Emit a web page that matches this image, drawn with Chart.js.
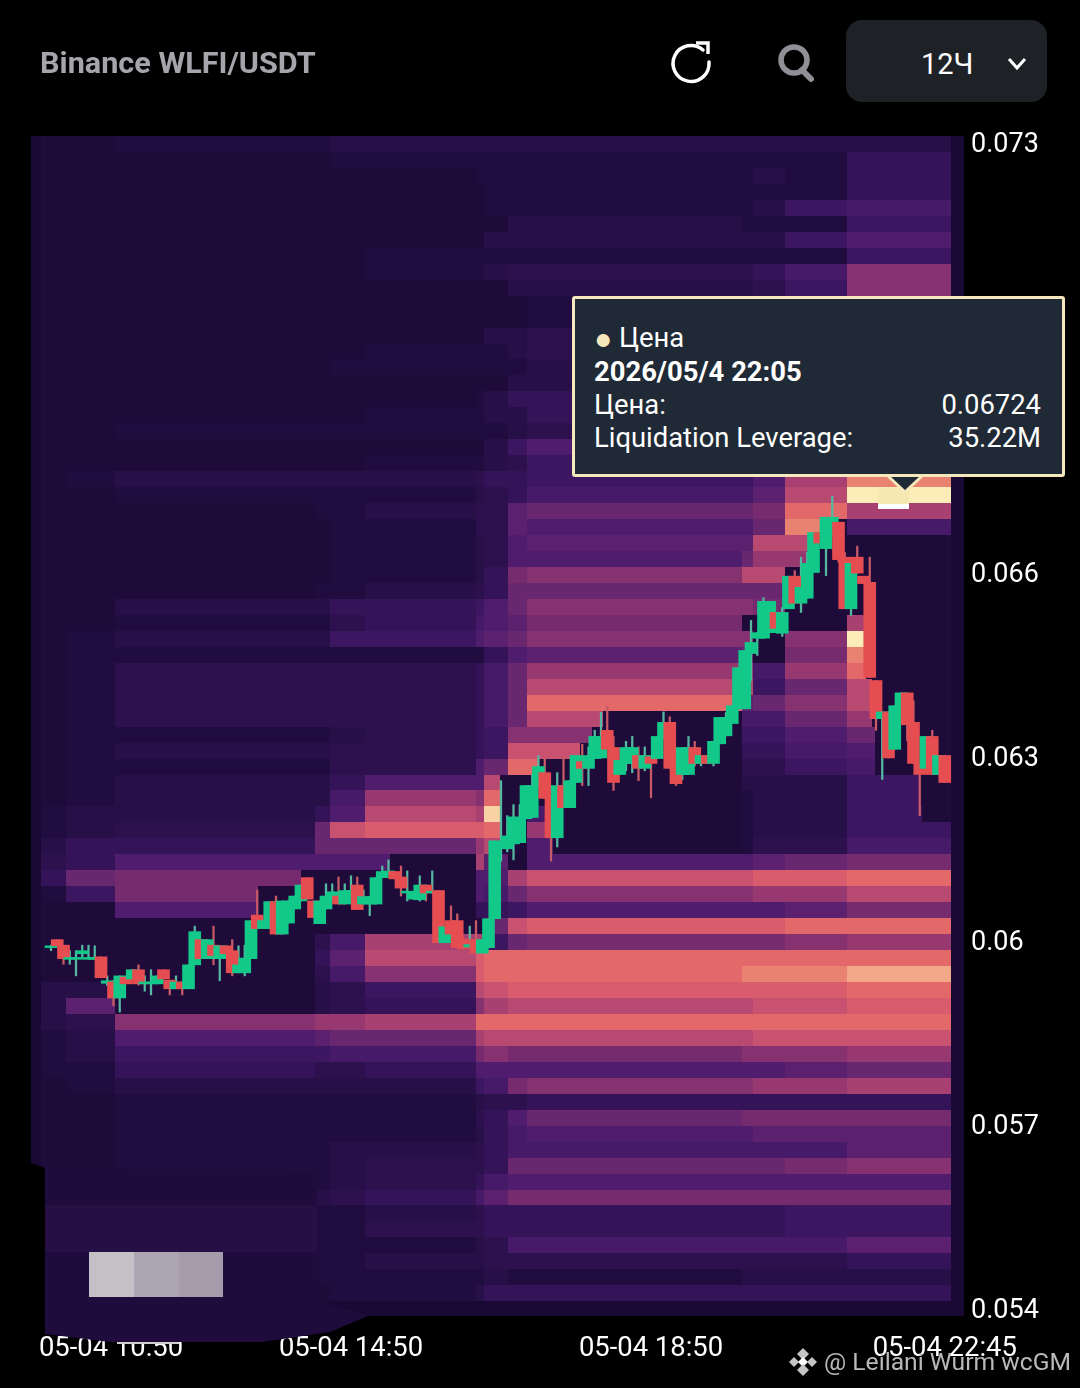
<!DOCTYPE html>
<html>
<head>
<meta charset="utf-8">
<title>Binance WLFI/USDT</title>
<script src="https://cdn.jsdelivr.net/npm/chart.js@4/dist/chart.umd.min.js"></script>
<style>
    html, body { margin: 0; padding: 0; background: #000; }
    #page { position: relative; width: 1080px; height: 1388px; overflow: hidden; background: #000; font-family: Roboto, sans-serif; }
    #page canvas { position: absolute; left: 0; top: 0; }
    .txt { position: absolute; white-space: nowrap; line-height: 1; }
    #title { left: 40px; top: 48px; font-size: 30px; font-weight: 700; color: #a5a5ac; transform: scaleX(1.02); transform-origin: left; }
    #rangeBtn { position: absolute; left: 846px; top: 20px; width: 201px; height: 82px; border-radius: 16px; background: #1e2226; }
    #rangeTxt { left: 921px; top: 50px; font-size: 29px; color: #fff; }
    #tip { position: absolute; left: 572px; top: 296px; width: 487px; height: 175px; background: #202a36; border: 3px solid #f6e8bd; border-radius: 3px; color: #fff; }
    #tip .txt { font-size: 27.4px; }
    #mark { left: 824px; top: 1350px; font-size: 24.7px; color: #b9b9b9; }
    svg { position: absolute; left: 0; top: 0; }
</style>
</head>
<body>
<div id="page">
    <canvas id="chartHeat" width="1080" height="1388"></canvas>
    <div class="txt" id="title">Binance WLFI/USDT</div>
    <div id="rangeBtn"></div>
    <div class="txt" id="rangeTxt">12Ч</div>
    <svg width="1080" height="1388">
        <path d="M703 50 A18 18 0 1 0 709 62" fill="none" stroke="#fff" stroke-width="3.5" stroke-linecap="round"/>
        <path d="M696 43 L708 43 L708 54" fill="none" stroke="#fff" stroke-width="3.5"/>
        <circle cx="794" cy="60" r="13" fill="none" stroke="#8f8f96" stroke-width="5.5"/>
        <path d="M802 70 L811 79" stroke="#8f8f96" stroke-width="6" stroke-linecap="round"/>
        <path d="M1009 59 L1017 68 L1025 59" fill="none" stroke="#fff" stroke-width="3"/>
        <path d="M888 476 L905 492 L922 476" fill="#202a36" stroke="#f6e8bd" stroke-width="3"/>
        <g fill="#c4c4c4">
            <path d="M803 1348 L809 1354 L803 1360 L797 1354 Z"/>
            <path d="M803 1357 L808 1362 L803 1367 L798 1362 Z" fill="#fff"/>
            <path d="M803 1364 L809 1370 L803 1376 L797 1370 Z"/>
            <path d="M794 1357 L799 1362 L794 1367 L789 1362 Z"/>
            <path d="M812 1357 L817 1362 L812 1367 L807 1362 Z"/>
        </g>
    </svg>
    <div id="tip">
        <div class="txt" style="left:19px;top:25px"><span style="color:#f6e8bd;font-size:30px;vertical-align:-2px">●</span> Цена</div>
        <div class="txt" style="left:19px;top:60px;font-weight:700">2026/05/4 22:05</div>
        <div class="txt" style="left:19px;top:93px">Цена:</div>
        <div class="txt" style="right:21px;top:93px">0.06724</div>
        <div class="txt" style="left:19px;top:126px">Liquidation Leverage:</div>
        <div class="txt" style="right:21px;top:126px">35.22M</div>
    </div>
    <div class="txt" id="mark">@ Leilani Wurm wcGM</div>
</div>

<script>
// candles, one per 5 min from 05-04 10:50 to 22:45, prices in 0.00001 USDT
const priceUnit = 0.00001;
const opens = [5989,6002,5993,5970,5970,5979,5970,5970,5974,5931,5933,5907,5941,5938,5953,5930,5930,5930,5953,5936,5922,5933,5922,5961,
    6002,5971,5993,5971,5992,5984,5948,5948,5971,6042,6020,6020,6064,6011,6029,6052,6065,6103,6065,6028,6052,6065,6073,6060,
    6062,6091,6060,6060,6060,6103,6111,6113,6104,6078,6068,6067,6091,6078,6082,5997,6033,6033,6003,5990,6002,5980,5989,6036,
    6152,6150,6158,6160,6199,6201,6248,6274,6232,6168,6253,6217,6258,6292,6281,6297,6298,6343,6315,6271,6289,6289,6302,6281,
    6300,6297,6331,6356,6281,6271,6271,6315,6289,6302,6289,6321,6334,6354,6378,6378,6468,6493,6493,6502,6535,6501,6541,6594,
    6550,6558,6600,6665,6639,6661,6682,6625,6541,6625,6594,6584,6424,6362,6373,6312,6370,6404,6356,6289,6281,6333,6271,6302];
const closes = [5992,5992,5971,5973,5973,5984,5973,5973,5940,5935,5907,5943,5930,5953,5930,5933,5933,5943,5938,5922,5933,5922,5961,6015,
    5971,6002,5976,5992,5979,5948,5961,5972,6033,6020,6033,6064,6011,6065,6065,6073,6091,6068,6038,6065,6073,6080,6060,6082,
    6082,6051,6072,6072,6103,6113,6114,6101,6086,6081,6080,6091,6078,6081,5997,6023,6011,5989,5987,5994,5980,6002,6036,6163,
    6158,6171,6202,6199,6253,6253,6284,6232,6168,6253,6217,6261,6302,6281,6302,6333,6333,6312,6258,6294,6315,6315,6281,6302,
    6289,6333,6356,6281,6256,6315,6315,6289,6302,6289,6325,6364,6364,6383,6445,6473,6486,6502,6553,6553,6509,6535,6594,6550,
    6576,6615,6665,6648,6690,6690,6621,6541,6615,6599,6582,6429,6362,6373,6298,6383,6404,6352,6289,6271,6333,6271,6302,6258];
const highs = [5993,6002,5993,5984,5984,5993,5993,5992,5974,5943,5935,5943,5941,5953,5961,5943,5953,5943,5953,5936,5943,5933,5961,6024,
    6002,6002,6024,5992,5992,6002,5992,5993,6033,6083,6033,6064,6073,6065,6065,6073,6091,6103,6065,6065,6093,6093,6104,6093,
    6106,6104,6083,6072,6103,6122,6132,6113,6122,6114,6080,6106,6091,6114,6082,6023,6057,6044,6003,6024,6033,6002,6036,6163,
    6261,6204,6222,6222,6253,6271,6302,6297,6232,6274,6298,6261,6302,6320,6316,6343,6372,6382,6333,6294,6325,6333,6316,6316,
    6300,6333,6373,6365,6281,6315,6333,6325,6302,6302,6325,6364,6372,6383,6445,6473,6522,6502,6559,6553,6535,6543,6594,6603,
    6625,6633,6665,6665,6690,6724,6682,6633,6615,6643,6594,6625,6424,6373,6373,6383,6404,6404,6391,6289,6333,6343,6302,6302];
const lows = [5984,5992,5962,5962,5943,5972,5970,5970,5940,5927,5894,5884,5930,5938,5928,5918,5912,5930,5938,5912,5922,5912,5922,5961,
    5971,5971,5961,5935,5979,5943,5948,5943,5971,6020,6020,6020,6011,6011,6029,6052,6065,6068,6038,6028,6052,6065,6060,6060,
    6062,6051,6060,6041,6060,6103,6109,6101,6073,6065,6068,6065,6065,6078,5997,5997,6011,5989,5987,5987,5980,5980,5989,6036,
    6130,6145,6132,6160,6199,6201,6248,6232,6130,6153,6217,6217,6258,6253,6253,6297,6298,6312,6245,6271,6277,6274,6261,6277,
    6233,6297,6331,6281,6253,6263,6271,6285,6285,6289,6285,6321,6334,6354,6378,6378,6424,6465,6493,6502,6509,6496,6541,6550,
    6535,6558,6600,6648,6595,6661,6617,6541,6530,6599,6582,6429,6343,6263,6298,6312,6370,6326,6289,6204,6281,6271,6271,6258];

// liquidation heat: column edges in candle index, one row per 0.00026 price band from the top down
const heatTopPrice = 0.07311;
const bandStep = 0.00026;
const heatEdges = [-1.6,2.4,10.24,42.24,44.64,50.24,68,69.28,73.12,76.16,110.56,112.32,117.44,127.36,144];
const heatRows = [
    [1,1,2,2,3,3,3,3,3,3,3,3,3,3],
    [1,1,1,1,2,2,2,2,2,2,2,2,2,5],
    [1,1,1,1,1,1,2,2,2,2,2,3,2,5],
    [1,1,1,1,1,1,1,2,2,2,2,2,2,5],
    [1,1,1,1,1,1,1,2,2,2,2,3,6,7],
    [1,1,1,1,1,1,1,1,3,3,2,2,2,6],
    [1,1,1,1,1,1,1,3,3,3,3,3,6,8],
    [1,1,1,1,1,2,2,2,2,2,2,2,2,6],
    [1,1,1,1,1,2,2,3,4,4,4,5,7,12],
    [1,1,1,1,1,1,1,1,3,3,3,4,6,12],
    [1,1,1,1,1,1,1,1,1,2,2,3,6,10],
    [1,1,1,1,1,1,1,1,1,2,2,3,6,11],
    [1,1,1,1,1,1,1,3,3,4,3,4,7,12],
    [1,1,1,1,1,2,2,2,3,4,3,4,7,12],
    [1,1,1,1,2,2,2,2,2,3,3,4,7,12],
    [1,1,1,1,1,1,1,1,3,3,3,4,8,12],
    [1,1,1,1,1,1,2,3,5,5,5,5,8,12],
    [1,1,1,1,1,2,2,3,3,5,5,5,8,12],
    [1,1,2,2,2,2,2,2,3,4,5,5,9,13],
    [1,1,1,1,1,1,1,3,6,8,6,6,10,14],
    [1,1,1,1,1,2,2,3,4,6,6,7,12,16],
    [1,2,3,3,3,3,4,5,5,6,6,8,14,19],
    [1,1,2,2,2,2,3,4,5,7,7,9,15,22],
    [1,1,1,2,2,3,4,4,9,10,10,11,18,14],
    [1,1,1,1,2,2,4,4,9,8,8,10,19,7],
    [1,1,1,1,2,2,3,4,8,9,9,15,15,1],
    [1,1,1,1,2,2,3,4,8,8,10,13,13,1],
    [1,1,1,1,2,2,3,5,11,12,15,15,1,1],
    [1,1,1,2,2,3,4,5,10,10,10,10,1,1],
    [1,1,3,3,5,5,6,8,10,12,12,11,1,1],
    [1,1,2,2,4,5,7,8,9,11,1,1,1,14],
    [1,2,3,3,6,6,8,9,10,12,12,1,12,22],
    [1,2,2,2,2,2,2,5,8,9,10,1,11,19],
    [1,2,4,4,4,4,5,7,10,13,13,7,13,18],
    [1,2,4,4,4,4,5,7,10,15,15,6,10,15],
    [1,2,4,4,4,4,5,7,10,18,9,10,12,15],
    [1,2,4,4,4,4,5,7,10,15,7,7,10,13],
    [1,2,2,2,3,4,5,6,12,12,6,6,8,10],
    [1,2,3,3,4,4,5,6,16,16,5,5,7,8],
    [1,2,2,2,4,4,8,10,18,18,4,4,6,7],
    [1,2,3,3,5,8,8,15,1,1,3,3,3,6],
    [1,2,3,3,7,13,12,18,1,1,2,3,3,6],
    [2,3,3,5,8,15,14,21,1,7,2,3,3,6],
    [2,3,4,10,16,17,17,18,1,13,2,3,3,6],
    [3,5,5,10,10,10,13,15,1,8,2,4,4,7],
    [4,5,8,8,8,8,14,9,1,8,8,9,10,11],
    [5,10,11,11,11,11,8,8,14,16,16,17,17,18],
    [2,6,11,11,11,11,8,7,10,12,12,13,13,15],
    [1,1,8,8,8,8,5,5,6,8,8,8,9,11],
    [1,1,1,1,1,1,1,10,16,17,17,17,18,18],
    [1,1,1,4,7,14,14,6,10,11,11,11,12,13],
    [1,1,1,5,9,15,17,18,18,18,18,18,18,18],
    [1,1,1,4,7,12,17,18,18,18,19,19,19,20],
    [3,3,1,3,4,6,15,16,17,17,17,17,17,18],
    [3,9,1,3,4,5,12,14,15,15,15,16,16,17],
    [3,4,12,13,13,14,18,18,18,18,18,18,18,18],
    [2,3,8,9,10,10,14,15,15,15,15,16,16,16],
    [2,3,6,6,7,7,11,12,11,11,12,12,12,13],
    [2,2,5,4,4,5,8,8,8,8,8,8,9,10],
    [1,2,3,3,3,3,6,7,11,12,12,13,13,14],
    [1,1,2,2,2,2,3,4,4,5,5,5,5,5],
    [1,1,2,2,2,2,4,5,8,10,11,11,11,11],
    [1,1,2,2,2,2,3,5,7,8,8,9,9,9],
    [1,1,2,2,3,3,4,5,7,7,7,7,7,9],
    [1,1,2,2,3,4,4,5,10,10,10,10,11,12],
    [1,1,1,2,3,4,5,7,8,8,8,8,8,8],
    [1,1,2,3,4,5,7,9,11,11,11,11,11,11],
    [1,1,2,2,2,3,4,5,5,5,5,5,6,6],
    [1,1,2,2,2,4,4,5,5,5,5,5,6,6],
    [1,1,2,2,2,2,3,4,7,7,7,7,7,9],
    [1,1,1,2,2,3,3,4,4,4,4,4,4,5],
    [1,1,1,2,2,2,2,3,2,2,3,3,3,3],
    [1,1,1,1,2,2,3,5,5,5,5,5,5,5]
];
// levels already wiped out by price: [row, from index, to index]
const sweptCells = [
    [24,123.36,127.36],[25,121.44,127.36],[26,121.44,127.36],
    [30,130.4,144],[31,130.4,144],[32,130.4,144],[33,130.4,144],
    [34,131.36,144],[35,131.36,144],[36,131.36,144],[37,131.84,144],[38,131.84,144],[39,131.84,144],
    [40,139.04,144],[41,139.04,144],[42,139.36,144],
    [36,88.32,110.56],[37,86.56,110.56],[38,84.64,110.56],[39,77.92,110.56],
    [42,79.36,110.56],[43,79.36,110.56],[44,80.32,110.56],
    [40,71.84,73.12],[41,71.84,73.12],[42,71.84,73.12],[43,71.84,73.12],[44,71.84,73.12],
    [45,54.24,68],[46,40,68],[47,33.12,68],[48,33.12,68]
];
const heatColors = ['#1a0934','#1e0b3a','#210c3f','#270f47','#2d114f','#341358','#3d1661','#461969','#4f1c6e','#5b216f','#68276f','#762b6f',
    '#863170','#973871','#a84072','#b84a72','#c85270','#d85c6c','#e2686a','#ea8272','#f2a888','#f8d2a4','#fbecb8'];
const hoverIndex = 135;
const hoverRow = 22;

const yTicks = [0.073, 0.069, 0.066, 0.063, 0.06, 0.057, 0.054];
const xTickSlots = [9.6, 48, 96, 143];
const xTickLabels = ['05-04 10:50', '05-04 14:50', '05-04 18:50', '05-04 22:45'];

const upColor = '#12c98a';
const downColor = '#e64d50';

const bodyData = [];
const wickData = [];
for (let i = 0; i < opens.length; i++) {
    bodyData.push({x: i, y: [opens[i] * priceUnit, closes[i] * priceUnit]});
    wickData.push({x: i, y: [lows[i] * priceUnit, highs[i] * priceUnit]});
}
const candleColors = opens.map((o, i) => closes[i] >= o ? upColor : downColor);
const wickColors = opens.map((o, i) => closes[i] >= o ? '#55b8a0' : '#c85a68');

const heatPlugin = {
    id: 'heat',
    beforeDatasetsDraw(chart) {
        const {ctx, chartArea, scales} = chart;
        const xs = scales.x, ys = scales.y;
        ctx.save();
        ctx.fillStyle = heatColors[0];
        ctx.fillRect(chartArea.left, chartArea.top, chartArea.width, chartArea.height);
        const rowTop = (r) => Math.round(ys.getPixelForValue(heatTopPrice - r * bandStep));
        const px = (v) => Math.round(xs.getPixelForValue(v));
        heatRows.forEach((row, r) => {
            row.forEach((level, c) => {
                ctx.fillStyle = heatColors[level];
                ctx.fillRect(px(heatEdges[c]), rowTop(r), px(heatEdges[c + 1]) - px(heatEdges[c]), rowTop(r + 1) - rowTop(r));
            });
        });
        ctx.fillStyle = heatColors[1];
        sweptCells.forEach((s) => {
            ctx.fillRect(px(s[1]), rowTop(s[0]), px(s[2]) - px(s[1]), rowTop(s[0] + 1) - rowTop(s[0]));
        });
        // hovered cell
        const hx = px(hoverIndex - 2.6), hw = px(hoverIndex + 2.3) - hx;
        ctx.fillStyle = '#f5e8b0';
        ctx.fillRect(hx, rowTop(hoverRow), hw, rowTop(hoverRow + 1) - rowTop(hoverRow) + 2);
        ctx.fillStyle = '#fff';
        ctx.fillRect(hx, rowTop(hoverRow + 1) + 1, hw, 5);
        ctx.restore();
    }
};

// the source screenshot has a painted-over patch in the bottom left corner
const patchPlugin = {
    id: 'patch',
    afterDraw(chart) {
        const ctx = chart.ctx;
        ctx.save();
        ctx.fillStyle = '#000';
        ctx.beginPath();
        ctx.moveTo(31, 1163); ctx.lineTo(45, 1168); ctx.lineTo(45, 1320); ctx.lineTo(31, 1320);
        ctx.fill();
        ctx.beginPath();
        ctx.moveTo(45, 1168); ctx.lineTo(317, 1176); ctx.lineTo(317, 1300); ctx.lineTo(368, 1316);
        ctx.lineTo(330, 1332); ctx.lineTo(262, 1342); ctx.lineTo(110, 1342); ctx.lineTo(45, 1334);
        ctx.clip();
        ctx.fillStyle = '#1f0b3c';
        ctx.fillRect(45, 1160, 330, 190);
        ctx.fillStyle = '#260f44';
        ctx.fillRect(45, 1205, 330, 47);
        ctx.restore();
        ctx.save();
        ctx.fillStyle = '#c3c1c6';
        ctx.fillRect(89, 1252, 45, 45);
        ctx.fillStyle = '#aca6b2';
        ctx.fillRect(134, 1252, 45, 45);
        ctx.fillStyle = '#a49cab';
        ctx.fillRect(179, 1252, 44, 45);
        ctx.fillStyle = '#d0d0d0';
        ctx.fillRect(117, 1342, 62, 2);
        ctx.restore();
    }
};

new Chart(document.getElementById('chartHeat').getContext('2d'), {
    type: 'bar',
    data: {
        datasets: [
            {data: wickData, backgroundColor: wickColors, barThickness: 1.6, grouped: false, order: 2},
            {data: bodyData, backgroundColor: candleColors, barThickness: 12, grouped: false, order: 1}
        ]
    },
    options: {
        responsive: false,
        animation: false,
        layout: {padding: {left: 31, top: 136, right: 0, bottom: 0}},
        plugins: {legend: {display: false}, tooltip: {enabled: false}},
        scales: {
            x: {
                type: 'linear',
                offset: false,
                min: -3.2,
                max: 146.08,
                grid: {display: false, drawTicks: false},
                border: {display: false},
                afterBuildTicks: (scale) => { scale.ticks = xTickSlots.map((v) => ({value: v})); },
                afterFit: (scale) => { scale.height = 72; },
                ticks: {
                    autoSkip: false,
                    maxRotation: 0,
                    padding: 17,
                    color: '#fff',
                    font: {family: 'Roboto', size: 27.4},
                    callback: (v) => xTickLabels[xTickSlots.indexOf(v)]
                }
            },
            y: {
                type: 'linear',
                position: 'right',
                min: 0.05389,
                max: heatTopPrice,
                grid: {display: false, drawTicks: false},
                border: {display: false},
                afterBuildTicks: (scale) => { scale.ticks = yTicks.map((v) => ({value: v})); },
                afterFit: (scale) => { scale.width = 116; },
                ticks: {
                    autoSkip: false,
                    padding: 7,
                    labelOffset: 2.5,
                    color: '#fff',
                    font: {family: 'Roboto', size: 27},
                    callback: (v) => String(v)
                }
            }
        }
    },
    plugins: [heatPlugin, patchPlugin]
});
</script>
</body>
</html>
